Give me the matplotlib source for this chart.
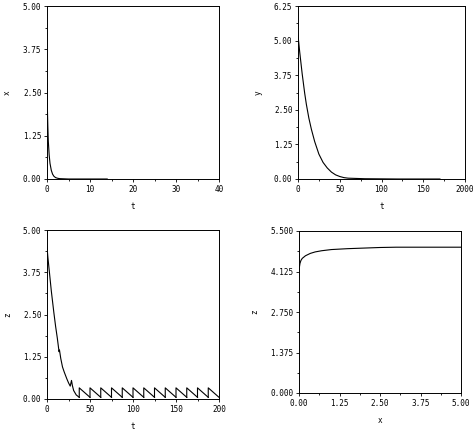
import matplotlib.pyplot as plt
import numpy as np

plt.rcParams['font.family'] = ['DejaVu Sans Mono']
plt.rcParams['font.size'] = 5.5

# top-left: x(t)
t1 = [0, 0.1, 0.2, 0.3, 0.5, 0.7, 1.0, 1.3, 1.6, 2.0, 2.5, 3, 5, 8, 14]
x1 = [2.75, 2.0, 1.5, 1.1, 0.7, 0.45, 0.25, 0.14, 0.08, 0.04, 0.02, 0.01, 0.0, 0.0, 0.0]

# top-right: y(t)
t2 = [0, 2, 5, 8, 10, 13, 16, 20, 25, 30, 35, 40, 45, 50, 55, 60, 80, 120, 170]
y2 = [5.2, 4.6, 3.8, 3.1, 2.7, 2.2, 1.8, 1.35, 0.9, 0.6, 0.4, 0.25, 0.15, 0.09, 0.05, 0.03, 0.01, 0.0, 0.0]

# bottom-left: z(t), decay then sawtooth
t3 = [0, 1, 3, 5, 8, 10, 12, 13.5, 14, 14.5, 16, 18, 20, 23, 25, 27, 28.5, 29.5, 31, 34, 37.5]
z3 = [4.5, 4.2, 3.7, 3.2, 2.55, 2.15, 1.8, 1.5, 1.4, 1.45, 1.2, 0.95, 0.8, 0.6, 0.48, 0.38, 0.55, 0.4, 0.25, 0.12, 0.05]
tooth_t = [37.5, 50, 62.5, 75, 87.5, 100, 112.5, 125, 137.5, 150, 162.5, 175, 187.5, 200]
tooth_hi = 0.33
tooth_lo = 0.05

# bottom-right: z vs x
x4 = [0, 0.01, 0.03, 0.06, 0.1, 0.2, 0.35, 0.5, 0.7, 1.0, 1.5, 2.0, 2.5, 3.0, 4.0, 5.0]
z4 = [4.05, 4.25, 4.4, 4.5, 4.57, 4.66, 4.74, 4.79, 4.83, 4.87, 4.9, 4.92, 4.94, 4.95, 4.95, 4.95]

fig = plt.figure(figsize=(4.74, 4.32), dpi=100)
W, H = 474, 432


def add(l, r, t, b):
    ax = fig.add_axes([l / W, 1 - b / H, (r - l) / W, (b - t) / H])
    ax.tick_params(which='both', direction='out', length=2, width=0.6, top=False, right=False, pad=2)
    ax.tick_params(which='minor', length=1.5)
    for s in ax.spines.values():
        s.set_linewidth(0.7)
    return ax


def setup(ax, xlim, xt, ylim, yt, xl, yl, xfmt, yfmt):
    ax.set_xlim(*xlim)
    ax.set_ylim(*ylim)
    ax.set_xticks(xt)
    ax.set_xticklabels([xfmt.format(v) for v in xt])
    ax.set_yticks(yt)
    ax.set_yticklabels([yfmt.format(v) for v in yt])
    ax.set_xticks([(a + b) / 2 for a, b in zip(xt[:-1], xt[1:])], minor=True)
    ax.set_yticks([(a + b) / 2 for a, b in zip(yt[:-1], yt[1:])], minor=True)
    ax.set_xlabel(xl, labelpad=6)
    ax.set_ylabel(yl, labelpad=8)


ax = add(47, 219, 6, 179)
ax.plot(t1, x1, color='black', lw=0.8)
setup(ax, (0, 40), [0, 10, 20, 30, 40], (0, 5), [0, 1.25, 2.5, 3.75, 5], 't', 'x', '{:g}', '{:.2f}')

ax = add(298, 465, 6, 179)
ax.plot(t2, y2, color='black', lw=0.8)
setup(ax, (0, 200), [0, 50, 100, 150, 200], (0, 6.25), [0, 1.25, 2.5, 3.75, 5, 6.25], 't', 'y', '{:g}', '{:.2f}')
ax.set_xticklabels(['0', '50', '100', '150', '2000'])

ax = add(47, 219, 230, 399)
ax.plot(t3, z3, color='black', lw=0.8)
for a, b in zip(tooth_t[:-1], tooth_t[1:]):
    ax.plot([a, a, b], [tooth_lo, tooth_hi, tooth_lo], color='black', lw=0.8)
setup(ax, (0, 200), [0, 50, 100, 150, 200], (0, 5), [0, 1.25, 2.5, 3.75, 5], 't', 'z', '{:g}', '{:.2f}')

ax = add(299, 461, 231, 393)
ax.plot(x4, z4, color='black', lw=0.8)
setup(ax, (0, 5), [0, 1.25, 2.5, 3.75, 5], (0, 5.5), [0, 1.375, 2.75, 4.125, 5.5], 'x', 'z', '{:.2f}', '{:.3f}')

fig.savefig('out.png', dpi=100)
